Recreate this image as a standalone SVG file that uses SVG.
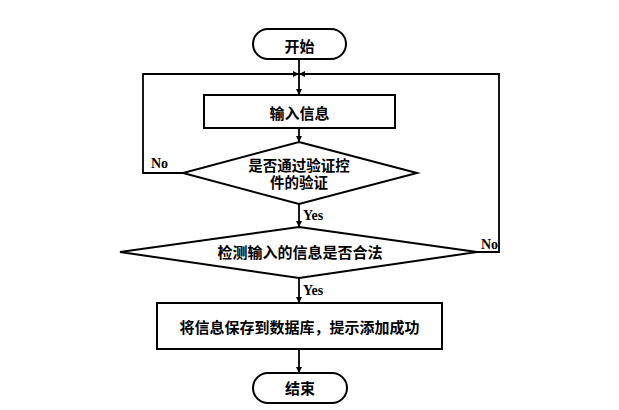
<svg xmlns="http://www.w3.org/2000/svg" width="619" height="410" viewBox="0 0 619 410">
<defs>
<marker id="arr" viewBox="0 0 10 10" refX="10" refY="5" markerWidth="6" markerHeight="6" markerUnits="userSpaceOnUse" orient="auto">
<path d="M0,0 L10,5 L0,10 z" fill="#000"/>
</marker>
</defs>
<style>
.shape{fill:#fff;stroke:#000;stroke-width:2}
.edge{fill:none;stroke:#000;stroke-width:1.8}
.t{font-family:"Noto Sans CJK SC","Noto Sans",sans-serif;font-weight:bold;font-size:15px;fill:#000;text-anchor:middle}
.t2{font-family:"Liberation Sans","Noto Sans CJK SC",sans-serif;font-size:14.5px}
.lbl{font-family:"Liberation Serif","DejaVu Serif",serif;font-weight:bold;font-size:14px;fill:#000}
</style>
<rect width="619" height="410" fill="#fff"/>
<g id="connectors">
<line class="edge" x1="299" y1="59" x2="299" y2="95" marker-end="url(#arr)"/>
<line class="edge" x1="299" y1="128" x2="299" y2="142" marker-end="url(#arr)"/>
<line class="edge" x1="299" y1="204" x2="299" y2="227" marker-end="url(#arr)"/>
<line class="edge" x1="299" y1="278" x2="299" y2="303" marker-end="url(#arr)"/>
<line class="edge" x1="299" y1="349" x2="299" y2="373" marker-end="url(#arr)"/>
<polyline class="edge" points="183,173 143,173 143,74 299,74" marker-end="url(#arr)"/>
<polyline class="edge" points="477,252 499,252 499,74 299,74" marker-end="url(#arr)"/>
<text class="lbl" x="151" y="168">No</text>
<text class="lbl" x="481" y="249">No</text>
<text class="lbl" x="303" y="220">Yes</text>
<text class="lbl" x="303" y="295">Yes</text>
</g>
<g id="start">
<rect class="shape" x="253" y="29" width="93" height="30" rx="15" ry="15"/>
<text class="t" x="299.5" y="52">开始</text>
</g>
<g id="input">
<rect class="shape" x="204" y="95" width="191" height="33"/>
<text class="t" x="299.5" y="119">输入信息</text>
</g>
<g id="check1">
<polygon class="shape" points="299,142 417,173 299,204 183,173"/>
<text class="t t2" x="299" y="170.5">是否通过验证控</text>
<text class="t t2" x="299" y="187.5">件的验证</text>
</g>
<g id="check2">
<polygon class="shape" points="299,227 477,252 299,278 120,252"/>
<text class="t" x="300" y="258">检测输入的信息是否合法</text>
</g>
<g id="save">
<rect class="shape" x="157" y="303" width="285" height="46"/>
<text class="t" x="299.5" y="333">将信息保存到数据库，提示添加成功</text>
</g>
<g id="end">
<rect class="shape" x="253" y="373" width="94" height="30" rx="15" ry="15"/>
<text class="t" x="300" y="394">结束</text>
</g>
</svg>
